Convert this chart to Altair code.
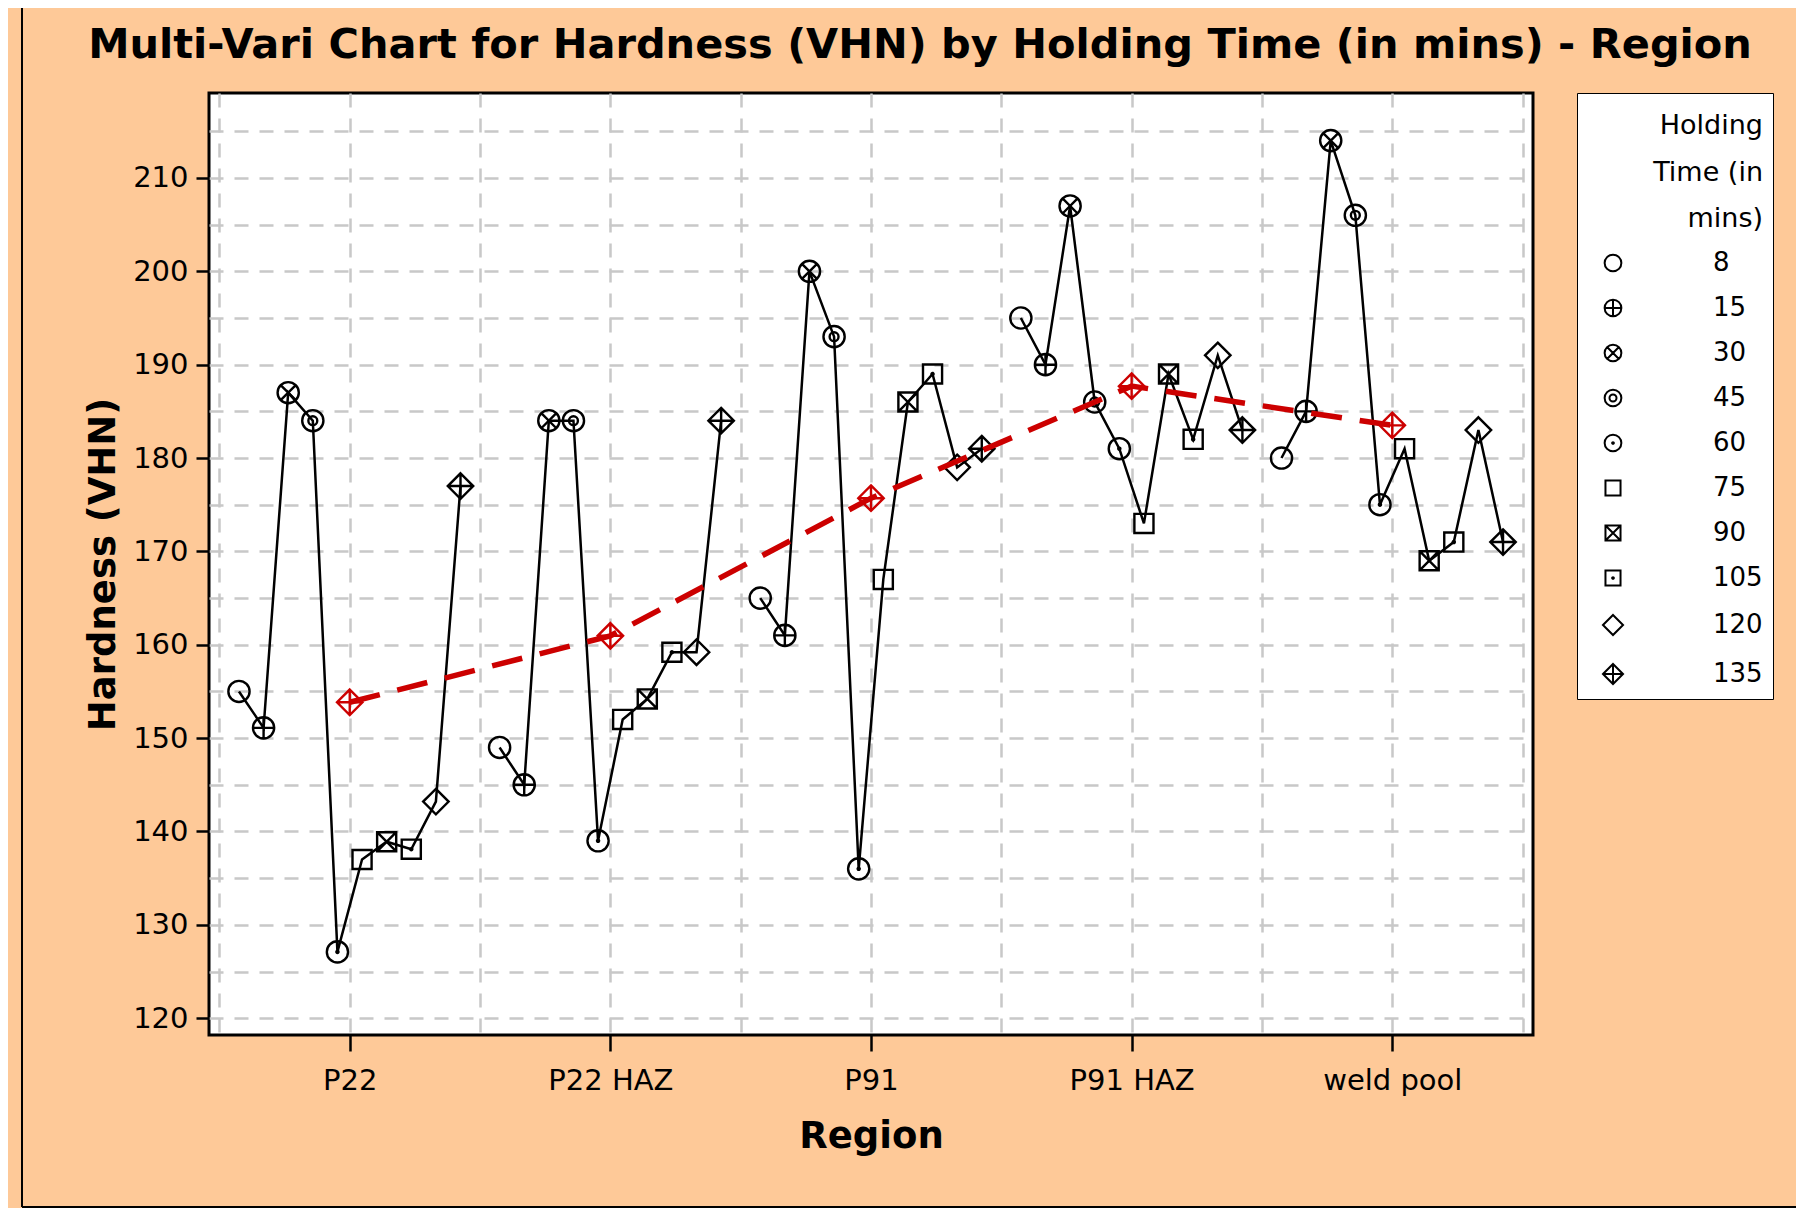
import altair as alt
import pandas as pd

# chart values
regions = ["P22", "P22 HAZ", "P91", "P91 HAZ", "weld pool"]
holding_times = [8, 15, 30, 45, 60, 75, 90, 105, 120, 135]

hardness_p22 = [155, 151.1, 187, 184, 127.1, 137, 138.9, 138.1, 143.2, 177]
hardness_p22_haz = [149, 145, 184, 184, 139, 152, 154.2, 159.2, 159.2, 184]
hardness_p91 = [165, 161, 200, 193, 136, 167, 186, 189, 179, 181]
hardness_p91_haz = [195, 190, 207, 186, 181, 173, 189, 182, 191, 183]
hardness_weld_pool = [180, 185, 214, 206, 175, 181, 169, 171, 183, 171]

y_ticks = list(range(120, 220, 5))
x_ticks = [i / 2 for i in range(-1, 10)]

series = [hardness_p22, hardness_p22_haz, hardness_p91, hardness_p91_haz, hardness_weld_pool]
rows = []
for ri, (region, values) in enumerate(zip(regions, series)):
    for k, (t, v) in enumerate(zip(holding_times, values)):
        rows.append({"region": region, "ri": ri, "k": k, "holding": t, "hardness": v})
df = pd.DataFrame(rows)

# Minitab-like open symbols (unit square -1..1)
circ = "M-1,0A1,1,0,1,1,1,0A1,1,0,1,1,-1,0Z"
dot = "M-0.1,0A0.1,0.1,0,1,1,0.1,0A0.1,0.1,0,1,1,-0.1,0Z"
ring = "M-0.42,0A0.42,0.42,0,1,1,0.42,0A0.42,0.42,0,1,1,-0.42,0Z"
sq = "M-0.9,-0.9L0.9,-0.9L0.9,0.9L-0.9,0.9Z"
dia = "M0,-1.2L1.2,0L0,1.2L-1.2,0Z"
shapes = [
    circ,
    circ + "M-1,0L1,0M0,-1L0,1",
    circ + "M-0.71,-0.71L0.71,0.71M-0.71,0.71L0.71,-0.71",
    circ + ring,
    circ + dot,
    sq,
    sq + "M-0.9,-0.9L0.9,0.9M-0.9,0.9L0.9,-0.9",
    sq + dot,
    dia,
    dia + "M-1.2,0L1.2,0M0,-1.2L0,1.2",
]
mean_shape = shapes[-1]

FONT = "DejaVu Sans"
step = 0.85 / 9

region_lookup = "[" + ",".join("'%s'" % r for r in regions) + "]"

x_axis = alt.Axis(
    values=x_ticks,
    labelExpr=f"datum.value % 1 === 0 ? {region_lookup}[datum.value] : ''",
    tickOpacity={"condition": {"test": "datum.value % 1 === 0", "value": 1}, "value": 0},
    tickSize=16, labelPadding=15,
    titleX=662, titleY=112, titleBaseline="alphabetic", titleAlign="center",
)
y_axis = alt.Axis(
    values=y_ticks,
    labelExpr="datum.value % 10 === 0 ? datum.label : ''",
    tickOpacity={"condition": {"test": "datum.value % 10 === 0", "value": 1}, "value": 0},
    tickSize=13, labelPadding=8,
    titleX=-95, titleY=471, titleAngle=270, titleAlign="center", titleBaseline="alphabetic",
)


def xenc(field):
    return alt.X(field, type="quantitative", title="Region", axis=x_axis,
                 scale=alt.Scale(domain=[-0.54, 4.54], nice=False, zero=False))


def yenc(field):
    return alt.Y(field, type="quantitative", title="Hardness (VHN)", axis=y_axis,
                 scale=alt.Scale(domain=[118.2, 219.1], nice=False, zero=False))


base = alt.Chart(df).transform_calculate(pos=f"datum.ri + (datum.k - 4.5) * {step}")

lines = base.mark_line(color="black", strokeWidth=2.5).encode(
    x=xenc("pos"), y=yenc("hardness"), detail="region:N", order="k:Q"
)

points = base.mark_point(filled=False, color="black", size=450, strokeWidth=2.4, opacity=1).encode(
    x=xenc("pos"), y=yenc("hardness"),
    shape=alt.Shape(
        "holding:O",
        scale=alt.Scale(domain=holding_times, range=shapes),
        legend=alt.Legend(
            orient="none", legendX=1368, legendY=0,
            title=["Holding", "Time (in", "mins)"],
            titleFont=FONT, titleFontSize=27, titleFontWeight="normal", titleColor="black",
            titleAlign="right", titleAnchor="end", titleLineHeight=46.5,
            titleBaseline="line-top", titlePadding=27,
            labelFont=FONT, labelFontSize=26, labelColor="black",
            labelExpr="pad(datum.label, 3, '\u2007', 'left')",
            labelAlign="left", labelOffset=87, rowPadding=19,
            padding=10, fillColor="white", strokeColor="black",
            symbolSize=280, symbolStrokeWidth=2, symbolStrokeColor="black",
            symbolOffset=13,
        ),
    ),
)

means = alt.Chart(df).transform_aggregate(mean_h="mean(hardness)", groupby=["ri"])

mean_line = means.mark_line(color="#CC0000", strokeWidth=5.5, strokeDash=[31, 18]).encode(
    x=xenc("ri"), y=yenc("mean_h")
)
mean_points = means.mark_point(
    shape=mean_shape, filled=False, color="#CC0000", size=450, strokeWidth=2.4, opacity=1
).encode(x=xenc("ri"), y=yenc("mean_h"))

one = pd.DataFrame({"a": [0]})
frame_left = alt.Chart(one).mark_rule(color="black", strokeWidth=2).encode(
    x=alt.value(-187), y=alt.value(-85), y2=alt.value(1114)
)
frame_bottom = alt.Chart(one).mark_rule(color="black", strokeWidth=2).encode(
    x=alt.value(-187), x2=alt.value(1587), y=alt.value(1114)
)

chart = alt.layer(lines, points, mean_line, mean_points, frame_left, frame_bottom).properties(
    width=1324, height=942,
    autosize=alt.AutoSizeParams(type="none"),
    padding={"left": 201, "top": 85, "right": 263, "bottom": 173},
    background="#FEC998",
    title=alt.TitleParams(
        "Multi-Vari Chart for Hardness (VHN) by Holding Time (in mins) - Region",
        font=FONT, fontSize=41.5, fontWeight="bold", color="black",
        anchor="middle", frame="group", baseline="alphabetic", offset=-92, dx=49,
    ),
).configure_axis(
    labelFont=FONT, labelFontSize=29, labelColor="black",
    titleFont=FONT, titleFontSize=37, titleFontWeight="bold", titleColor="black",
    tickColor="black", tickWidth=2.5, domain=False,
    grid=True, gridColor="#C8C8C8", gridDash=[14, 11], gridWidth=2.5,
).configure_view(
    fill="white", stroke="black", strokeWidth=3
)

chart.save("out.html", embed_options={"renderer": "svg", "actions": False})
